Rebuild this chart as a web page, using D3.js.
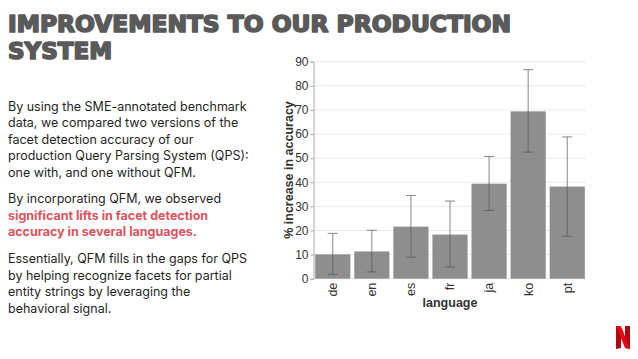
<!DOCTYPE html>
<html lang="en">
<head>
<meta charset="UTF-8">
<title>Improvements to our production system</title>
<script src="https://d3js.org/d3.v7.min.js"></script>
<style>
  body { margin: 0; background: #fff; }
  svg { display: block; }
</style>
</head>
<body>
<svg id="slide"></svg>
<script>
const width = 638, height = 359;

// data
const languages = ["de", "en", "es", "fr", "ja", "ko", "pt"];
const lift = [10.1, 11.3, 21.6, 18.3, 39.4, 69.4, 38.2];
const lowErr = [1.8, 2.8, 8.9, 4.8, 28.3, 52.5, 17.6];
const highErr = [18.8, 20.1, 34.5, 32.2, 50.7, 86.7, 58.8];
const yTicks = [0, 10, 20, 30, 40, 50, 60, 70, 80, 90];

const titleLines = ["IMPROVEMENTS TO OUR PRODUCTION", "SYSTEM"];
const titleWidths = [503, 104];
const paragraphs = [
  [["By using the SME-annotated benchmark"], ["data, we compared two versions of the"],
   ["facet detection accuracy of our"], ["production Query Parsing System (QPS):"],
   ["one with, and one without QFM."]],
  [["By incorporating QFM, we observed"], ["significant lifts in facet detection", true],
   ["accuracy in several languages.", true]],
  [["Essentially, QFM fills in the gaps for QPS"], ["by helping recognize facets for partial"],
   ["entity strings by leveraging the"], ["behavioral signal."]]
];

const svg = d3.select("#slide").attr("width", width).attr("height", height);

// ---- title ----
svg.selectAll("text.title")
  .data(titleLines)
  .enter()
  .append("text")
  .attr("class", "title")
  .attr("x", 8)
  .attr("y", (d, i) => 31.5 + i * 27)
  .attr("font-family", "DejaVu Sans, sans-serif")
  .attr("font-weight", 700)
  .attr("font-size", 22.5)
  .attr("fill", "#5a5a5a")
  .attr("stroke", "#5a5a5a")
  .attr("stroke-width", 1.7)
  .attr("stroke-linejoin", "round")
  .attr("textLength", (d, i) => titleWidths[i])
  .attr("lengthAdjust", "spacingAndGlyphs")
  .text(d => d);

// ---- body text ----
const bodyStarts = [110.5, 203, 263];
const lineH = 16.5;
paragraphs.forEach((para, pi) => {
  svg.selectAll(null)
    .data(para)
    .enter()
    .append("text")
    .attr("x", 8)
    .attr("y", (d, i) => bodyStarts[pi] + i * lineH)
    .attr("font-family", "Inter, sans-serif")
    .attr("font-size", 12.5)
    .attr("font-weight", d => d[1] ? 700 : 400)
    .attr("fill", d => d[1] ? "#d9545e" : "#1f1f1f")
    .text(d => d[0]);
});

// ---- chart ----
const x = d3.scaleBand().domain(languages).range([314, 586]).paddingInner(0.1).paddingOuter(0.03);
const y = d3.scaleLinear().domain([0, 90]).range([278.7, 61.7]);

const g = svg.append("g");

// gridlines
g.selectAll("line.grid")
  .data(yTicks)
  .enter()
  .append("line")
  .attr("x1", 314).attr("x2", 586)
  .attr("y1", d => y(d)).attr("y2", d => y(d))
  .attr("stroke", "#ebebeb")
  .attr("stroke-width", 1);

// y axis
const yAxis = g.append("g")
  .attr("transform", "translate(313.5,0)")
  .call(d3.axisLeft(y).tickValues(yTicks).tickSize(3).tickPadding(2));
yAxis.select(".domain").attr("stroke", "#aaa");
yAxis.selectAll(".tick line").attr("stroke", "#aaa");
yAxis.selectAll("text")
  .attr("font-family", "Liberation Sans, Arial, sans-serif")
  .attr("font-size", 12)
  .attr("fill", "#333");

// bars
const rows = languages.map((l, i) => ({ lang: l, v: lift[i], lo: lowErr[i], hi: highErr[i] }));

g.selectAll("rect.bar")
  .data(rows)
  .enter()
  .append("rect")
  .attr("x", d => x(d.lang))
  .attr("y", d => y(d.v))
  .attr("width", x.bandwidth())
  .attr("height", d => y(0) - y(d.v))
  .attr("fill", "#8e8e8e");

// error bars
const eb = g.selectAll("g.err")
  .data(rows)
  .enter()
  .append("g")
  .attr("transform", d => `translate(${x(d.lang) + x.bandwidth() / 2},0)`)
  .attr("stroke", "#555")
  .attr("stroke-opacity", 0.7)
  .attr("stroke-width", 1);
eb.append("line").attr("y1", d => y(d.lo)).attr("y2", d => y(d.hi));
eb.append("line").attr("x1", -5).attr("x2", 5).attr("y1", d => y(d.lo)).attr("y2", d => y(d.lo));
eb.append("line").attr("x1", -5).attr("x2", 5).attr("y1", d => y(d.hi)).attr("y2", d => y(d.hi));

// x axis
const xAxis = g.append("g")
  .attr("transform", `translate(0,${y(0)})`)
  .call(d3.axisBottom(x).tickSize(0).tickPadding(0));
xAxis.select(".domain").remove();
xAxis.selectAll("text")
  .attr("transform", "rotate(-90)")
  .attr("text-anchor", "end")
  .attr("dy", "0.35em")
  .attr("x", -4)
  .attr("y", 0)
  .attr("font-family", "Liberation Sans, Arial, sans-serif")
  .attr("font-size", 12.5)
  .attr("fill", "#333");

// axis titles
svg.append("text")
  .attr("x", 450)
  .attr("y", 307)
  .attr("text-anchor", "middle")
  .attr("font-family", "Liberation Sans, Arial, sans-serif")
  .attr("font-weight", 700)
  .attr("font-size", 12.5)
  .attr("fill", "#333")
  .text("language");

svg.append("text")
  .attr("transform", "translate(293,170) rotate(-90)")
  .attr("text-anchor", "middle")
  .attr("font-family", "Liberation Sans, Arial, sans-serif")
  .attr("font-weight", 700)
  .attr("font-size", 12.5)
  .attr("fill", "#333")
  .text("% increase in accuracy");

// netflix N
const logo = svg.append("g").attr("transform", "translate(616,326)");
logo.append("path").attr("d", "M0,0 L5,0 L5,22 L0,23 Z").attr("fill", "#b1060f");
logo.append("path").attr("d", "M9,0 L14,0 L14,23 L9,22 Z").attr("fill", "#b1060f");
logo.append("path").attr("d", "M0,0 L5,0 L14,23 L9,22 Z").attr("fill", "#e50914");
</script>
</body>
</html>
